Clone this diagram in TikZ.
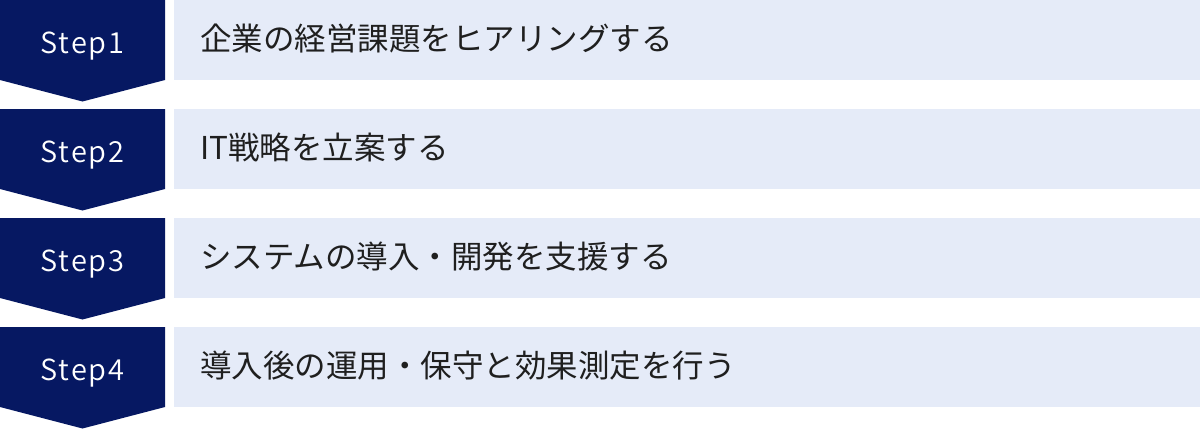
\documentclass[tikz,border=0pt]{standalone}
\usepackage{fontspec}
\setmainfont{Noto Sans CJK JP}
\newfontfamily\jpfont{Noto Sans CJK JP}
\newfontfamily\steplabfont{Noto Sans CJK JP DemiLight}
\definecolor{navy}{HTML}{061862}
\definecolor{lightbox}{HTML}{E5EBF8}
\tikzset{
  stepshape/.style={fill=navy, draw=none},
  textbox/.style={fill=lightbox, draw=none},
  steplabel/.style={text=white, font=\steplabfont\fontsize{29}{32}\selectfont\addfontfeatures{LetterSpace=6}, anchor=base, inner sep=0pt},
  tasklabel/.style={text=black!88, font=\jpfont\fontsize{31.5}{36}\selectfont, anchor=base west, inner sep=0pt}
}
\begin{document}
\begin{tikzpicture}[x=1pt,y=-1pt]
\useasboundingbox (0,0) rectangle (1200,429);
\foreach \i/\lab/\task in {0/Step1/企業の経営課題をヒアリングする,1/Step2/IT戦略を立案する,2/Step3/システムの導入・開発を支援する,3/Step4/導入後の運用・保守と効果測定を行う}{
  \pgfmathsetmacro{\t}{\i*109}
  \fill[stepshape] (0,\t) -- (165,\t) -- (165,\t+80) -- (82.5,\t+101.5) -- (0,\t+80) -- cycle;
  \fill[textbox] (174,\t) rectangle (1200,\t+80);
  \node[steplabel] (s\i) at (82.5,\t+53) {\lab};
  \node[tasklabel] (t\i) at (200,\t+50) {\task};
}
\end{tikzpicture}
\end{document}
